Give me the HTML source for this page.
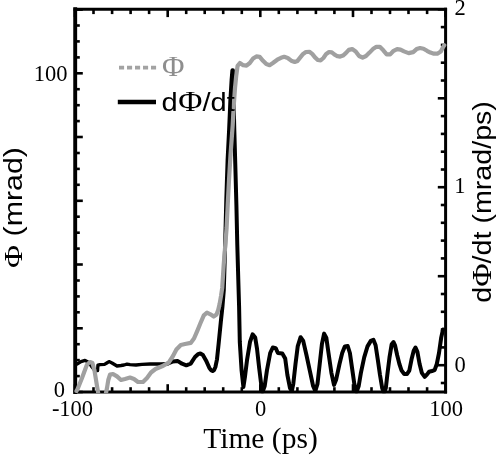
<!DOCTYPE html>
<html><head><meta charset="utf-8"><title>Phase plot</title>
<style>
html,body{margin:0;padding:0;background:#fff}
svg{display:block}
.serif{font-family:"Liberation Serif","DejaVu Serif",serif}
.sans{font-family:"Liberation Sans","DejaVu Sans",sans-serif}
</style></head>
<body>
<svg width="500" height="455" viewBox="0 0 500 455">
<rect width="500" height="455" fill="#fff"/>
<defs><clipPath id="c"><rect x="73.6" y="7.9" width="373.4" height="385.4"/></clipPath></defs>
<g stroke="#000" stroke-width="2.6" fill="none">
<line x1="75.0" y1="9.3" x2="75.0" y2="17.1"/>
<line x1="75.0" y1="392.0" x2="75.0" y2="384.2"/>
<line x1="93.5" y1="9.3" x2="93.5" y2="14.100000000000001"/>
<line x1="93.5" y1="392.0" x2="93.5" y2="387.2"/>
<line x1="112.1" y1="9.3" x2="112.1" y2="14.100000000000001"/>
<line x1="112.1" y1="392.0" x2="112.1" y2="387.2"/>
<line x1="130.6" y1="9.3" x2="130.6" y2="14.100000000000001"/>
<line x1="130.6" y1="392.0" x2="130.6" y2="387.2"/>
<line x1="149.1" y1="9.3" x2="149.1" y2="14.100000000000001"/>
<line x1="149.1" y1="392.0" x2="149.1" y2="387.2"/>
<line x1="167.7" y1="9.3" x2="167.7" y2="17.1"/>
<line x1="167.7" y1="392.0" x2="167.7" y2="384.2"/>
<line x1="186.2" y1="9.3" x2="186.2" y2="14.100000000000001"/>
<line x1="186.2" y1="392.0" x2="186.2" y2="387.2"/>
<line x1="204.7" y1="9.3" x2="204.7" y2="14.100000000000001"/>
<line x1="204.7" y1="392.0" x2="204.7" y2="387.2"/>
<line x1="223.2" y1="9.3" x2="223.2" y2="14.100000000000001"/>
<line x1="223.2" y1="392.0" x2="223.2" y2="387.2"/>
<line x1="241.8" y1="9.3" x2="241.8" y2="14.100000000000001"/>
<line x1="241.8" y1="392.0" x2="241.8" y2="387.2"/>
<line x1="260.3" y1="9.3" x2="260.3" y2="17.1"/>
<line x1="260.3" y1="392.0" x2="260.3" y2="384.2"/>
<line x1="278.8" y1="9.3" x2="278.8" y2="14.100000000000001"/>
<line x1="278.8" y1="392.0" x2="278.8" y2="387.2"/>
<line x1="297.4" y1="9.3" x2="297.4" y2="14.100000000000001"/>
<line x1="297.4" y1="392.0" x2="297.4" y2="387.2"/>
<line x1="315.9" y1="9.3" x2="315.9" y2="14.100000000000001"/>
<line x1="315.9" y1="392.0" x2="315.9" y2="387.2"/>
<line x1="334.4" y1="9.3" x2="334.4" y2="14.100000000000001"/>
<line x1="334.4" y1="392.0" x2="334.4" y2="387.2"/>
<line x1="353.0" y1="9.3" x2="353.0" y2="17.1"/>
<line x1="353.0" y1="392.0" x2="353.0" y2="384.2"/>
<line x1="371.5" y1="9.3" x2="371.5" y2="14.100000000000001"/>
<line x1="371.5" y1="392.0" x2="371.5" y2="387.2"/>
<line x1="390.0" y1="9.3" x2="390.0" y2="14.100000000000001"/>
<line x1="390.0" y1="392.0" x2="390.0" y2="387.2"/>
<line x1="408.5" y1="9.3" x2="408.5" y2="14.100000000000001"/>
<line x1="408.5" y1="392.0" x2="408.5" y2="387.2"/>
<line x1="427.1" y1="9.3" x2="427.1" y2="14.100000000000001"/>
<line x1="427.1" y1="392.0" x2="427.1" y2="387.2"/>
<line x1="445.6" y1="9.3" x2="445.6" y2="17.1"/>
<line x1="445.6" y1="392.0" x2="445.6" y2="384.2"/>
<line x1="75.0" y1="392.0" x2="82.8" y2="392.0"/>
<line x1="75.0" y1="376.1" x2="79.8" y2="376.1"/>
<line x1="75.0" y1="360.1" x2="79.8" y2="360.1"/>
<line x1="75.0" y1="344.2" x2="79.8" y2="344.2"/>
<line x1="75.0" y1="328.3" x2="82.8" y2="328.3"/>
<line x1="75.0" y1="312.3" x2="79.8" y2="312.3"/>
<line x1="75.0" y1="296.4" x2="79.8" y2="296.4"/>
<line x1="75.0" y1="280.5" x2="79.8" y2="280.5"/>
<line x1="75.0" y1="264.5" x2="82.8" y2="264.5"/>
<line x1="75.0" y1="248.6" x2="79.8" y2="248.6"/>
<line x1="75.0" y1="232.7" x2="79.8" y2="232.7"/>
<line x1="75.0" y1="216.7" x2="79.8" y2="216.7"/>
<line x1="75.0" y1="200.8" x2="82.8" y2="200.8"/>
<line x1="75.0" y1="184.8" x2="79.8" y2="184.8"/>
<line x1="75.0" y1="168.9" x2="79.8" y2="168.9"/>
<line x1="75.0" y1="153.0" x2="79.8" y2="153.0"/>
<line x1="75.0" y1="137.0" x2="82.8" y2="137.0"/>
<line x1="75.0" y1="121.1" x2="79.8" y2="121.1"/>
<line x1="75.0" y1="105.2" x2="79.8" y2="105.2"/>
<line x1="75.0" y1="89.2" x2="79.8" y2="89.2"/>
<line x1="75.0" y1="73.3" x2="82.8" y2="73.3"/>
<line x1="75.0" y1="57.4" x2="79.8" y2="57.4"/>
<line x1="75.0" y1="41.4" x2="79.8" y2="41.4"/>
<line x1="75.0" y1="25.5" x2="79.8" y2="25.5"/>
<line x1="75.0" y1="9.6" x2="82.8" y2="9.6"/>
<line x1="445.6" y1="383.0" x2="440.8" y2="383.0"/>
<line x1="445.6" y1="365.2" x2="437.8" y2="365.2"/>
<line x1="445.6" y1="347.4" x2="440.8" y2="347.4"/>
<line x1="445.6" y1="329.6" x2="440.8" y2="329.6"/>
<line x1="445.6" y1="311.8" x2="440.8" y2="311.8"/>
<line x1="445.6" y1="294.0" x2="440.8" y2="294.0"/>
<line x1="445.6" y1="276.2" x2="437.8" y2="276.2"/>
<line x1="445.6" y1="258.4" x2="440.8" y2="258.4"/>
<line x1="445.6" y1="240.6" x2="440.8" y2="240.6"/>
<line x1="445.6" y1="222.8" x2="440.8" y2="222.8"/>
<line x1="445.6" y1="205.0" x2="440.8" y2="205.0"/>
<line x1="445.6" y1="187.2" x2="437.8" y2="187.2"/>
<line x1="445.6" y1="169.5" x2="440.8" y2="169.5"/>
<line x1="445.6" y1="151.7" x2="440.8" y2="151.7"/>
<line x1="445.6" y1="133.9" x2="440.8" y2="133.9"/>
<line x1="445.6" y1="116.1" x2="440.8" y2="116.1"/>
<line x1="445.6" y1="98.3" x2="437.8" y2="98.3"/>
<line x1="445.6" y1="80.5" x2="440.8" y2="80.5"/>
<line x1="445.6" y1="62.7" x2="440.8" y2="62.7"/>
<line x1="445.6" y1="44.9" x2="440.8" y2="44.9"/>
<line x1="445.6" y1="27.1" x2="440.8" y2="27.1"/>
<line x1="445.6" y1="9.3" x2="437.8" y2="9.3"/>
</g>
<g stroke="#000" fill="none" stroke-linecap="square">
<line x1="75.2" y1="9.3" x2="75.2" y2="392.0" stroke-width="3.9"/>
<line x1="445.6" y1="9.3" x2="445.6" y2="392.0" stroke-width="3"/>
<line x1="75.0" y1="9.3" x2="445.6" y2="9.3" stroke-width="2.9"/>
<line x1="75.0" y1="392.0" x2="445.6" y2="392.0" stroke-width="2.9"/>
</g>
<g clip-path="url(#c)" fill="none" stroke-linejoin="round" stroke-linecap="round">
<polyline points="77.0,364.2 81.0,361.6 85.0,360.4 88.0,362.0 90.0,364.0 92.0,367.0 94.0,369.5 96.3,370.6 97.6,370.6 97.9,365.2 100.0,364.6 104.5,364.4 106.8,363.0 109.0,361.6 112.0,363.0 117.0,366.0 121.0,365.5 124.0,365.0 127.0,364.1 130.0,364.7 136.0,365.0 142.0,364.3 150.0,364.0 161.0,364.0 167.6,363.7" stroke="#000" stroke-width="3.3"/>
<polyline points="167.6,363.7 173.0,361.5 177.5,360.9 182.0,363.7 186.3,365.3 190.7,363.7 195.0,357.0 198.0,354.2 200.4,353.5 202.9,355.0 206.0,360.4 209.3,367.8 211.0,370.2 212.6,371.0 214.1,370.0 215.4,367.0 217.0,359.3 218.6,344.0 220.8,322.0 222.4,307.0 223.8,290.0 225.0,250.0 226.3,200.0 227.6,160.0 229.1,130.0 230.4,100.0 231.6,80.0 232.4,70.3 232.9,70.3 233.6,100.0 234.3,130.0 235.3,165.0 236.4,205.0 237.3,245.0 238.3,280.0 239.1,307.0 239.8,342.0 241.6,370.6 243.4,387.0 244.9,377.2 247.1,359.6 250.0,342.0 252.6,334.3 255.2,337.6 257.0,348.6 259.2,368.4 261.4,386.0 262.5,392.0 264.7,386.0 266.9,370.6 270.2,353.0 272.8,347.5 275.7,348.2 277.9,353.0 282.3,353.4 285.2,358.5 287.4,375.0 290.0,388.2 291.8,391.0 293.3,383.8 295.5,364.0 297.7,346.4 300.6,337.2 303.2,340.9 306.5,355.2 309.8,370.6 313.1,386.0 315.3,391.0 317.5,383.8 319.7,364.0 321.9,344.2 324.1,333.6 326.3,337.6 328.5,353.0 331.4,372.8 334.0,384.9 336.2,379.4 339.5,364.0 342.2,353.0 344.8,346.4 347.7,346.0 349.9,353.0 352.1,368.4 354.3,383.8 356.5,392.0 358.7,386.0 360.9,372.8 364.2,357.4 367.5,346.4 370.8,340.9 373.4,339.8 375.6,345.3 377.8,359.6 380.0,375.0 382.2,388.2 384.0,392.5 385.8,388.2 387.3,375.0 389.5,357.4 391.7,344.2 393.5,342.0 395.0,345.3 397.2,355.2 399.4,364.0 401.6,370.6 404.2,373.9 407.1,373.9 409.3,370.6 411.5,359.6 413.7,350.8 415.5,347.5 417.4,351.9 419.6,364.0 421.8,372.8 424.7,376.8 426.9,374.6 429.1,371.7 432.0,371.0 434.6,370.2 436.8,364.0 439.0,353.0 441.2,337.6 443.0,329.5" stroke="#000" stroke-width="4"/>
<polyline points="76.5,391.0 77.6,389.0 82.0,378.0 87.0,364.5 90.0,362.0 92.4,363.0 94.4,370.0 97.0,386.0 98.2,393.0" stroke="#a0a0a0" stroke-width="4.2"/>
<polyline points="106.0,393.0 107.0,388.0 108.3,380.0 110.0,374.6 113.0,374.0 117.0,376.4 121.0,380.0 125.0,379.0 130.0,377.6 134.0,379.0 138.0,382.0 143.0,382.0 147.0,378.0 151.0,372.5 155.5,369.0 162.0,366.3 168.7,362.6 173.0,356.0 176.4,349.5 180.8,345.0 185.0,344.0 190.7,342.9 194.0,338.5 197.3,330.8 200.5,323.0 203.8,315.4 207.0,312.7 210.4,314.3 213.7,316.5 216.5,314.5 218.2,310.0 219.6,304.0 221.0,296.0 222.2,288.0 223.7,265.0 225.3,245.0 226.6,228.0 227.7,205.0 229.0,180.0 230.5,155.0 232.7,125.0 233.8,105.0 235.0,88.0 236.2,76.0 237.6,65.8 239.9,63.0 243.2,65.2 246.5,65.6 249.8,63.0 253.1,58.6 256.4,56.4 259.7,56.8 263.0,60.8 266.3,64.1 269.6,65.2 272.9,63.0 277.3,59.7 281.0,57.8 284.2,56.8 287.7,58.0 291.2,60.7 294.7,61.9 297.5,60.9 300.3,57.4 303.1,53.9 305.9,52.0 309.4,51.8 312.2,53.9 315.0,57.4 317.8,60.0 320.6,60.3 323.4,58.0 326.2,53.9 329.0,52.0 331.8,52.4 334.6,54.6 337.4,56.2 340.2,56.6 343.0,55.6 345.8,53.2 348.8,49.9 352.2,49.1 355.7,51.4 359.1,56.0 362.6,57.7 366.0,56.0 369.5,52.6 372.9,49.1 376.4,46.8 379.8,46.8 383.3,50.3 386.7,54.4 390.2,54.4 393.6,50.8 397.1,49.1 400.5,49.6 404.0,51.4 408.6,53.1 413.2,52.1 416.6,49.1 420.1,48.0 423.5,48.7 427.0,50.8 430.4,52.6 433.9,53.7 437.3,53.7 440.8,51.4 442.6,48.0 444.3,45.2" stroke="#a0a0a0" stroke-width="4.2"/>
</g>
<!-- legend -->
<line x1="119" y1="67.7" x2="156.2" y2="67.7" stroke="#a3a3a3" stroke-width="3.8" stroke-dasharray="5.1 2.9"/>
<line x1="117.8" y1="102" x2="156" y2="102" stroke="#000" stroke-width="4.3"/>
<text class="serif" transform="translate(161.9,76.4) scale(1.06,1)" font-size="29" fill="#8e8e8e">Φ</text>
<text class="sans" transform="translate(161.6,111) scale(1.1,1)" font-size="26.4" fill="#000">d<tspan class="serif" font-size="30" dx="0.4">Φ</tspan><tspan dx="0.2">/dt</tspan></text>
<!-- tick labels -->
<g class="serif" font-size="22.5" fill="#000">
<text x="67.5" y="81" text-anchor="end">100</text>
<text x="65" y="397" text-anchor="end">0</text>
<text x="72.5" y="416.3" text-anchor="middle">-100</text>
<text x="260.5" y="416.3" text-anchor="middle">0</text>
<text x="446" y="416.3" text-anchor="middle">100</text>
<text x="454.5" y="15.3" >2</text>
<text x="454.3" y="192.5" >1</text>
<text x="454.5" y="372" >0</text>
</g>
<text class="serif" x="260.5" y="448.3" font-size="29.5" text-anchor="middle" fill="#000">Time (ps)</text>
<text transform="translate(22,268) rotate(-90) scale(1.215,1)" font-size="25" fill="#000"><tspan class="serif" font-size="26">Φ</tspan><tspan class="sans" font-size="25"> (mrad)</tspan></text>
<text transform="translate(490.8,302.8) rotate(-90) scale(1.146,1)" font-size="25" fill="#000" class="sans">d<tspan class="serif" font-size="28">Φ</tspan>/dt (mrad/ps)</text>
</svg>
</body></html>
